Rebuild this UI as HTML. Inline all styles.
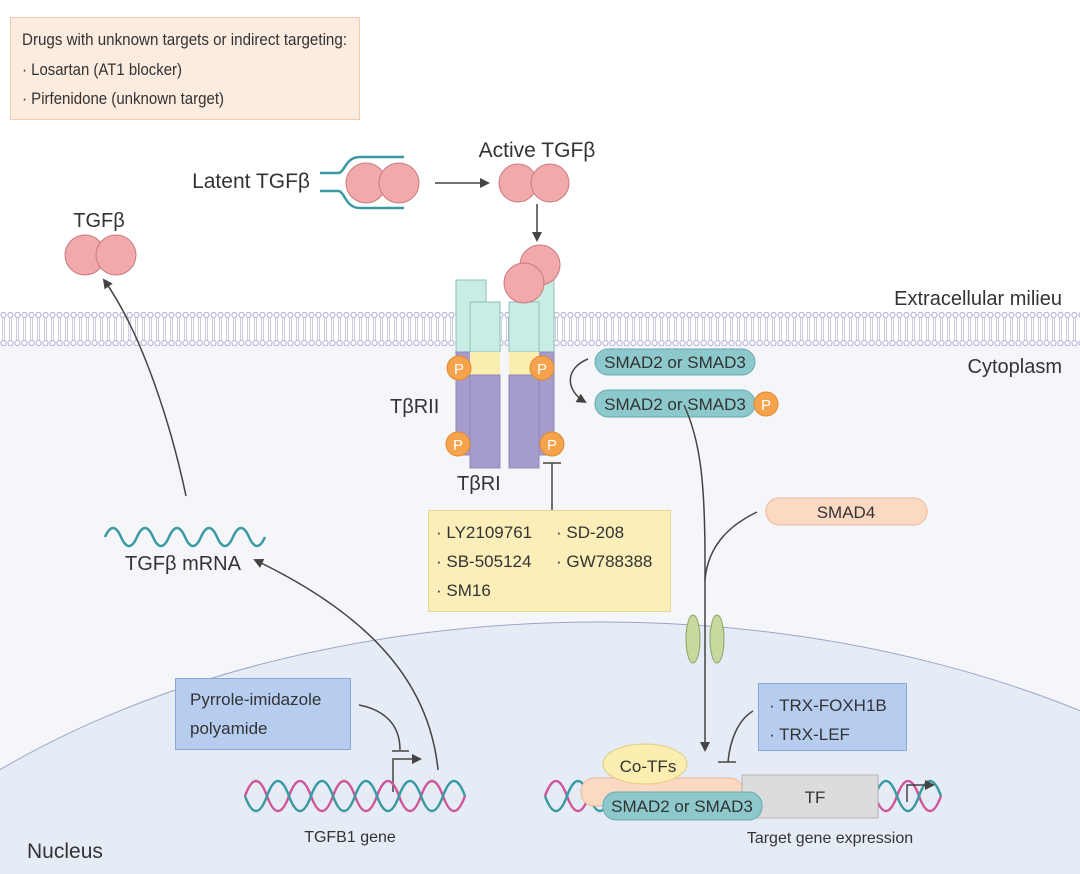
<!DOCTYPE html>
<html><head><meta charset="utf-8"><style>
html,body{margin:0;padding:0;background:#fff;width:1080px;height:874px;overflow:hidden}
svg{display:block}
text{font-family:"Liberation Sans",sans-serif;fill:#333}
</style></head><body>
<svg width="1080" height="874" viewBox="0 0 1080 874" xmlns="http://www.w3.org/2000/svg">
<defs>
<pattern id="mem" x="0" y="312" width="7" height="34" patternUnits="userSpaceOnUse">
<circle cx="3.5" cy="3" r="2.6" fill="#fff" stroke="#b3aed6" stroke-width="1"/>
<circle cx="3.5" cy="31" r="2.6" fill="#fff" stroke="#b3aed6" stroke-width="1"/>
<path d="M2.6 6 V28 M4.4 6 V28" stroke="#c4c0e0" stroke-width="0.8"/>
</pattern>
<marker id="ar" markerWidth="10" markerHeight="10" refX="8" refY="5" orient="auto" markerUnits="userSpaceOnUse"><path d="M0,0 L10,5 L0,10 z" fill="#444"/></marker>
</defs>
<rect x="0" y="344" width="1080" height="530" fill="#f5f6fa"/>
<ellipse cx="600" cy="1150" rx="865" ry="528" fill="#e5ecf5" stroke="#9fa3c9" stroke-width="1"/>
<rect x="0" y="312" width="1080" height="34" fill="url(#mem)"/>

<!-- top box -->
<rect x="10.5" y="17.5" width="349" height="102" fill="#fcebdf" stroke="#f0cdb2"/>
<text x="22" y="45" font-size="17" textLength="325" lengthAdjust="spacingAndGlyphs">Drugs with unknown targets or indirect targeting:</text>
<text x="22" y="75" font-size="17" textLength="160" lengthAdjust="spacingAndGlyphs">· Losartan (AT1 blocker)</text>
<text x="22" y="104" font-size="17" textLength="202" lengthAdjust="spacingAndGlyphs">· Pirfenidone (unknown target)</text>

<!-- latent -->
<text x="310" y="188" font-size="21" text-anchor="end">Latent TGFβ</text>
<path d="M320 173 H338 C345 173 345 157 360 157 H404 M320 191 H338 C345 191 345 208 360 208 H404" fill="none" stroke="#3a9aa3" stroke-width="2.5"/>
<circle cx="366" cy="183" r="20" fill="#f2a9ab" stroke="#c87b7f"/>
<circle cx="399" cy="183" r="20" fill="#f2a9ab" stroke="#c87b7f"/>
<line x1="435" y1="183" x2="488" y2="183" stroke="#444" stroke-width="1.5" marker-end="url(#ar)"/>
<text x="537" y="157" font-size="21" text-anchor="middle">Active TGFβ</text>
<circle cx="518" cy="183" r="19" fill="#f2a9ab" stroke="#c87b7f"/>
<circle cx="550" cy="183" r="19" fill="#f2a9ab" stroke="#c87b7f"/>
<line x1="537" y1="204" x2="537" y2="240" stroke="#444" stroke-width="1.5" marker-end="url(#ar)"/>

<!-- TGFb left -->
<text x="99" y="227" font-size="20" text-anchor="middle">TGFβ</text>
<circle cx="85" cy="255" r="20" fill="#f2a9ab" stroke="#c87b7f"/>
<circle cx="116" cy="255" r="20" fill="#f2a9ab" stroke="#c87b7f"/>
<path d="M186 496 C170 420 140 330 104 280" fill="none" stroke="#444" stroke-width="1.5" marker-end="url(#ar)"/>

<!-- labels -->
<text x="1062" y="305" font-size="20" text-anchor="end">Extracellular milieu</text>
<text x="1062" y="373" font-size="20" text-anchor="end">Cytoplasm</text>

<!-- receptors -->
<g stroke="#8f88b8" stroke-width="1">
<rect x="456" y="280" width="30" height="72" fill="#c9ece4" stroke="#8fbfb7"/>
<rect x="456" y="352" width="30" height="103" fill="#a59ccb"/>
<rect x="524" y="280" width="30" height="72" fill="#c9ece4" stroke="#8fbfb7"/>
<rect x="524" y="352" width="30" height="103" fill="#a59ccb"/>
<rect x="470" y="302" width="30" height="50" fill="#c9ece4" stroke="#8fbfb7"/>
<rect x="470" y="352" width="30" height="23" fill="#fbecb0" stroke="none"/>
<rect x="470" y="375" width="30" height="93" fill="#a59ccb"/>
<rect x="509" y="302" width="30" height="50" fill="#c9ece4" stroke="#8fbfb7"/>
<rect x="509" y="352" width="30" height="23" fill="#fbecb0" stroke="none"/>
<rect x="509" y="375" width="30" height="93" fill="#a59ccb"/>
</g>
<circle cx="540" cy="265" r="20" fill="#f2a9ab" stroke="#c87b7f"/>
<circle cx="524" cy="283" r="20" fill="#f2a9ab" stroke="#c87b7f"/>
<g font-size="15" text-anchor="middle">
<circle cx="459" cy="368" r="12" fill="#f5a34c" stroke="#e08a30"/><text x="459" y="374" style="fill:#fff">P</text>
<circle cx="542" cy="368" r="12" fill="#f5a34c" stroke="#e08a30"/><text x="542" y="374" style="fill:#fff">P</text>
<circle cx="458" cy="444" r="12" fill="#f5a34c" stroke="#e08a30"/><text x="458" y="450" style="fill:#fff">P</text>
<circle cx="552" cy="444" r="12" fill="#f5a34c" stroke="#e08a30"/><text x="552" y="450" style="fill:#fff">P</text>
</g>
<text x="390" y="413" font-size="20">TβRII</text>
<text x="457" y="490" font-size="20">TβRI</text>

<!-- SMAD2/3 -->
<rect x="595" y="349" width="160" height="26" rx="13" fill="#8cc8cc" stroke="#6aaab0"/>
<text x="675" y="368" font-size="17" text-anchor="middle">SMAD2 or SMAD3</text>
<rect x="595" y="390" width="160" height="27" rx="13" fill="#8cc8cc" stroke="#6aaab0"/>
<text x="675" y="410" font-size="17" text-anchor="middle">SMAD2 or SMAD3</text>
<circle cx="766" cy="404" r="12" fill="#f5a34c" stroke="#e08a30"/><text x="766" y="410" font-size="15" text-anchor="middle" style="fill:#fff">P</text>
<path d="M588 359 C565 368 565 390 585 402" fill="none" stroke="#444" stroke-width="1.5" marker-end="url(#ar)"/>

<!-- inhibitor -->
<path d="M552 510 V463 M543 463 H561" stroke="#444" stroke-width="1.5" fill="none"/>
<rect x="428.5" y="510.5" width="242" height="101" fill="#fbeeb9" stroke="#e8d590"/>
<g font-size="17">
<text x="436" y="538">· LY2109761</text><text x="556" y="538">· SD-208</text>
<text x="436" y="567">· SB-505124</text><text x="556" y="567">· GW788388</text>
<text x="436" y="596">· SM16</text>
</g>

<!-- SMAD pathway -->
<path d="M684 405 C700 440 705 480 705 560 V750" fill="none" stroke="#444" stroke-width="1.5" marker-end="url(#ar)"/>
<path d="M757 512 C730 525 708 545 705 580" fill="none" stroke="#444" stroke-width="1.5"/>
<rect x="766" y="498" width="161" height="27" rx="13" fill="#fcd9c2" stroke="#e8b898"/>
<text x="846" y="518" font-size="17" text-anchor="middle">SMAD4</text>
<ellipse cx="693" cy="639" rx="7" ry="24" fill="#c7d99f" stroke="#8ea364"/>
<ellipse cx="717" cy="639" rx="7" ry="24" fill="#c7d99f" stroke="#8ea364"/>

<!-- TRX -->
<rect x="758.5" y="683.5" width="148" height="67" fill="#b6cdf0" stroke="#8aa6d8"/>
<text x="769" y="711" font-size="17">· TRX-FOXH1B</text>
<text x="769" y="740" font-size="17">· TRX-LEF</text>
<path d="M753 711 C738 720 730 740 728 762 M718 762 H736" fill="none" stroke="#444" stroke-width="1.5"/>

<!-- target DNA -->
<path d="M545 796 q11,-30 22,0 t22,0 t22,0 t22,0 t22,0 t22,0 t22,0 t22,0 t22,0 t22,0 t22,0 t22,0 t22,0 t22,0 t22,0 t22,0 t22,0 t22,0" fill="none" stroke="#d0579a" stroke-width="2.5"/>
<path d="M545 796 q11,30 22,0 t22,0 t22,0 t22,0 t22,0 t22,0 t22,0 t22,0 t22,0 t22,0 t22,0 t22,0 t22,0 t22,0 t22,0 t22,0 t22,0 t22,0" fill="none" stroke="#3a9aa3" stroke-width="2.5"/>
<rect x="581" y="778" width="162" height="28" rx="13" fill="#fcd9c2" stroke="#e8b898"/>
<ellipse cx="645" cy="764" rx="42" ry="20" fill="#fbeeb0" stroke="#e0cc80"/>
<text x="648" y="772" font-size="17" text-anchor="middle">Co-TFs</text>
<rect x="742" y="775" width="136" height="43" fill="#dcdcdc" stroke="#b5b5b5"/>
<text x="815" y="803" font-size="17" text-anchor="middle">TF</text>
<rect x="603" y="792" width="159" height="28" rx="13" fill="#8cc8cc" stroke="#6aaab0"/>
<text x="682" y="812" font-size="17" text-anchor="middle">SMAD2 or SMAD3</text>
<path d="M907 802 V785 H933" fill="none" stroke="#444" stroke-width="1.5" marker-end="url(#ar)"/>
<text x="830" y="843" font-size="16" text-anchor="middle">Target gene expression</text>

<!-- mRNA -->
<path d="M105 537 q8,-18 16,0 t16,0 t16,0 t16,0 t16,0 t16,0 t16,0 t16,0 t16,0 t16,0" fill="none" stroke="#3a9aa3" stroke-width="2.5"/>
<text x="183" y="570" font-size="20" text-anchor="middle">TGFβ mRNA</text>
<path d="M438 770 C430 690 380 620 255 560" fill="none" stroke="#444" stroke-width="1.5" marker-end="url(#ar)"/>

<!-- pyrrole -->
<rect x="175.5" y="678.5" width="175" height="71" fill="#b6cdf0" stroke="#8aa6d8"/>
<text x="190" y="705" font-size="17">Pyrrole-imidazole</text>
<text x="190" y="734" font-size="17">polyamide</text>
<path d="M359 705 C385 710 400 725 400 750 M392 751 H409" fill="none" stroke="#444" stroke-width="1.5"/>
<path d="M393 792 V759 H420" fill="none" stroke="#444" stroke-width="1.5" marker-end="url(#ar)"/>
<path d="M245 796 q11,-30 22,0 t22,0 t22,0 t22,0 t22,0 t22,0 t22,0 t22,0 t22,0 t22,0" fill="none" stroke="#d0579a" stroke-width="2.5"/>
<path d="M245 796 q11,30 22,0 t22,0 t22,0 t22,0 t22,0 t22,0 t22,0 t22,0 t22,0 t22,0" fill="none" stroke="#3a9aa3" stroke-width="2.5"/>
<text x="350" y="842" font-size="16" text-anchor="middle">TGFB1 gene</text>
<text x="27" y="858" font-size="21">Nucleus</text>
</svg>
</body></html>
